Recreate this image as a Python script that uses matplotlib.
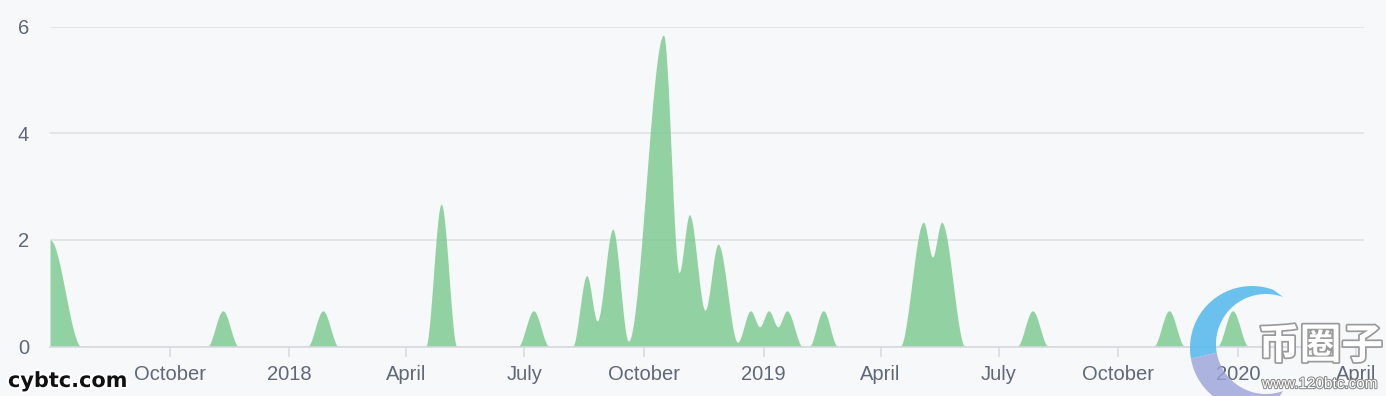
import numpy as np
import pandas as pd
import matplotlib
matplotlib.use("Agg")
import matplotlib.pyplot as plt
import matplotlib.dates as mdates
import matplotlib.patheffects as pe
from matplotlib.patches import Polygon

# knots of the smoothed area series (peaks, dips and zero bases)
dates = ["2017-07-01", "2017-07-25",
         "2017-10-30", "2017-11-11", "2017-11-23",
         "2018-01-15", "2018-01-27", "2018-02-08",
         "2018-04-16", "2018-04-28", "2018-05-10",
         "2018-06-26", "2018-07-08", "2018-07-20",
         "2018-08-07", "2018-08-18", "2018-08-26", "2018-09-07", "2018-09-19",
         "2018-10-16", "2018-10-28", "2018-11-05", "2018-11-17", "2018-11-27",
         "2018-12-12", "2018-12-22", "2018-12-29", "2019-01-05", "2019-01-12",
         "2019-01-19", "2019-01-31",
         "2019-02-05", "2019-02-16", "2019-02-27",
         "2019-04-16", "2019-05-04", "2019-05-11", "2019-05-18", "2019-06-05",
         "2019-07-15", "2019-07-27", "2019-08-08",
         "2019-10-28", "2019-11-09", "2019-11-21",
         "2019-12-16", "2019-12-28", "2020-01-09",
         "2020-04-07"]
values = [2.0, 0,
          0, 0.67, 0,
          0, 0.67, 0,
          0, 2.67, 0,
          0, 0.67, 0,
          0, 1.33, 0.48, 2.2, 0.1,
          5.84, 1.39, 2.47, 0.68, 1.92,
          0.08, 0.67, 0.37, 0.67, 0.37,
          0.67, 0,
          0, 0.67, 0,
          0, 2.33, 1.68, 2.33, 0,
          0, 0.67, 0,
          0, 0.67, 0,
          0, 0.67, 0,
          0]

tick_dates = ["2017-10-01", "2018-01-01", "2018-04-01", "2018-07-01", "2018-10-01",
              "2019-01-01", "2019-04-01", "2019-07-01", "2019-10-01", "2020-01-01",
              "2020-04-01"]
tick_labels = ["October", "2018", "April", "July", "October", "2019", "April",
               "July", "October", "2020", "April"]
y_ticks = [0, 2, 4, 6]

bg = "#f7f8fa"
grid_c = "#dfe0e4"
label_c = "#5f6878"


def smooth(x, y, n=60):
    # spline with flat tangents at each knot (all knots are extrema or plateaus)
    xs, ys = [], []
    for i in range(len(x) - 1):
        t = np.linspace(0, 1, n, endpoint=False)
        h = 3 * t**2 - 2 * t**3
        xs.append(x[i] + (x[i + 1] - x[i]) * t)
        ys.append(y[i] + (y[i + 1] - y[i]) * h)
    xs.append([x[-1]])
    ys.append([y[-1]])
    return np.concatenate(xs), np.concatenate(ys)


def crescent(a0, a1, n=40):
    # logo crescent between two offset circles, in pixels from top-left
    a = np.radians(np.linspace(a0, a1, n))
    outer = np.c_[1252 + 62 * np.cos(a), 348 - 62 * np.sin(a)]
    inner = np.c_[1266 + 50 * np.cos(a[::-1]), 344 - 50 * np.sin(a[::-1])]
    pts = np.vstack([outer, inner])
    return np.c_[pts[:, 0] / 100, (396 - pts[:, 1]) / 100]


x = mdates.date2num(pd.to_datetime(dates))
xs, ys = smooth(x, np.array(values, dtype=float))

plt.rcParams["font.family"] = ["Liberation Sans", "DejaVu Sans"]
fig = plt.figure(figsize=(13.86, 3.96), dpi=100, facecolor=bg)
ax = fig.add_axes([50 / 1386, (396 - 346.5) / 396, 1314 / 1386, 320 / 396])
ax.set_facecolor(bg)

ax.fill_between(xs, ys, 0, color="#71c685", alpha=0.75, lw=0, zorder=2)

ax.set_xlim(x[0], x[-1])
ax.set_ylim(0, 6)
ax.set_yticks(y_ticks)
ax.set_yticklabels([str(v) for v in y_ticks])
ax.set_xticks(mdates.date2num(pd.to_datetime(tick_dates)))
ax.set_xticklabels(tick_labels)
ax.grid(axis="y", color=grid_c, lw=1.1, zorder=1)
ax.set_axisbelow(True)
for s in ["top", "right", "left"]:
    ax.spines[s].set_visible(False)
ax.spines["bottom"].set_color("#d6d9de")
ax.spines["bottom"].set_linewidth(1.2)
ax.tick_params(axis="x", colors="#d6d9de", length=7.5, width=1.1, pad=5.5,
               labelcolor=label_c, labelsize=14.5)
ax.tick_params(axis="y", length=0, pad=15, labelcolor=label_c, labelsize=14.5)

# watermarks
fig.text(8 / 1386, 0.038, "cybtc.com", fontsize=15, fontweight="bold",
         family=["DejaVu Sans"], color="#111111", va="center", ha="left",
         path_effects=[pe.withStroke(linewidth=3, foreground="white")])
fig.add_artist(Polygon(crescent(70, 190), closed=True, lw=0, color="#48b4ec",
                       alpha=0.8, transform=fig.dpi_scale_trans))
fig.add_artist(Polygon(crescent(190, 290), closed=True, lw=0, color="#9aa2d8",
                       alpha=0.8, transform=fig.dpi_scale_trans))
fig.text(1258 / 1386, 0.125, "币圈子", fontsize=30, fontweight="bold",
         family=["Noto Sans CJK SC", "DejaVu Sans"], color="white",
         va="center", ha="left",
         path_effects=[pe.withStroke(linewidth=2.5, foreground="#9a9a9a")])
fig.text(1262 / 1386, 0.03, "www.120btc.com", fontsize=11, color="white",
         va="center", ha="left",
         path_effects=[pe.withStroke(linewidth=1.5, foreground="#8a8a8a")])

fig.savefig("out.png", dpi=100, facecolor=bg)
